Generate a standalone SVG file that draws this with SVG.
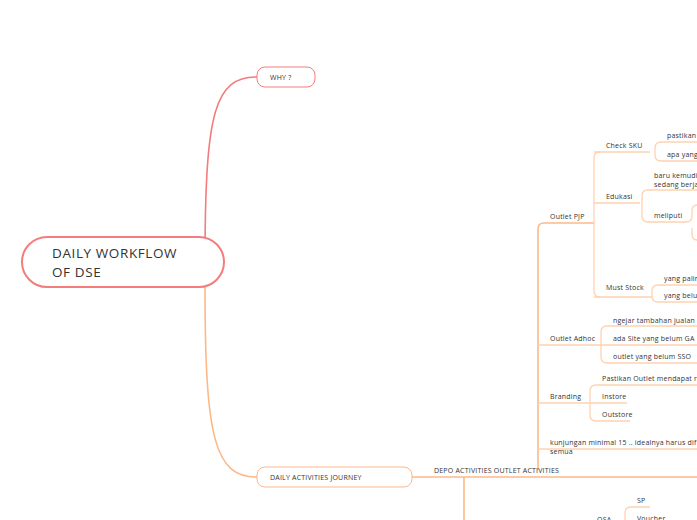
<svg xmlns="http://www.w3.org/2000/svg" width="697" height="520" viewBox="0 0 697 520">
<style>
text{font-family:"Open Sans","Liberation Sans",sans-serif;fill:#333;font-size:7px;letter-spacing:0.2px}
.l{fill:none;stroke:#fdd3b2;stroke-width:1.3}
.m{fill:none;stroke:#fbb98a;stroke-width:1.6}
</style>
<rect width="697" height="520" fill="#fff"/>
<g id="connectors">
<path d="M205 262 C205 110 215 77 257 77" fill="none" stroke="#f47c7c" stroke-width="1.6"/>
<path d="M205 287 C205 440 215 477 257 477" class="m"/>
<path d="M412 477 H697" class="m"/>
<path d="M464 477 V520" class="m"/>
<path d="M538 470 V229 Q538 223 544 223 H594" class="m"/>
<path d="M600 152 Q594 152 594 158 V291 Q594 297 600 297" class="l"/>
<path d="M594 152 H650 M594 203 H640 M594 297 H652" class="l"/>
<path d="M661 142 Q655 142 655 148 V155 Q655 161 661 161 H697 M661 142 H697" class="l"/>
<path d="M648 190 Q642 190 642 196 V216 Q642 222 648 222 H686 Q692 222 692 216 V211 Q692 205 697 205 M692 228 V234 Q692 240 697 240 M648 190 H697" class="l"/>
<path d="M658 285 Q652 285 652 291 V296 Q652 302 658 302 H697 M658 285 H697" class="l"/>
<path d="M538 345 H601 M607 326 Q601 326 601 332 V357 Q601 363 607 363 H697 M607 326 H697 M601 345 H697" class="l"/>
<path d="M538 403 H590 M596 385 Q590 385 590 391 V415 Q590 421 596 421 H630 M596 385 H697 M590 403 H627" class="l"/>
<path d="M538 449 H697" class="l"/>
<path d="M631 507 Q625 507 625 513 V520 M631 507 H650" class="l"/>
</g>
<g id="root"><rect x="22" y="237" width="202" height="50" rx="25" fill="#fff" stroke="#f47c7c" stroke-width="2"/>
<text x="52" y="258" style="font-size:13.5px;letter-spacing:0.6px">DAILY WORKFLOW</text><text x="52" y="277" style="font-size:13.5px;letter-spacing:0.6px">OF DSE</text></g>
<g id="why"><rect x="257" y="67" width="58" height="20" rx="8" fill="#fff" stroke="#f47c7c"/><text x="270" y="80">WHY ?</text></g>
<g id="daily"><rect x="257" y="467" width="155" height="20" rx="8" fill="#fff" stroke="#fbb98a"/><text x="270" y="480">DAILY ACTIVITIES JOURNEY</text></g>
<g id="depo"><text x="434" y="473">DEPO ACTIVITIES   OUTLET ACTIVITIES</text></g>
<g id="pjp"><text x="550" y="219">Outlet PJP</text></g>
<g id="checksku"><text x="606" y="148">Check SKU</text><text x="667" y="138">pastikan</text><text x="667" y="157">apa yang</text></g>
<g id="edukasi"><text x="606" y="199">Edukasi</text><text x="654" y="178">baru kemudi</text><text x="654" y="187">sedang berja</text><text x="654" y="218">meliputi</text></g>
<g id="muststock"><text x="606" y="290">Must Stock</text><text x="664" y="281">yang palin</text><text x="664" y="298">yang belu</text></g>
<g id="adhoc"><text x="550" y="341">Outlet Adhoc</text><text x="613" y="323">ngejar tambahan jualan</text><text x="613" y="341">ada Site yang belum  GA</text><text x="613" y="359">outlet yang belum SSO</text></g>
<g id="branding"><text x="550" y="399">Branding</text><text x="602" y="381">Pastikan Outlet  mendapat r</text><text x="602" y="399">Instore</text><text x="602" y="417">Outstore</text></g>
<g id="kunjungan"><text x="550" y="445">kunjungan minimal 15 ..   idealnya harus dif</text><text x="550" y="454">semua</text></g>
<g id="osa"><text x="597" y="522">OSA</text><text x="637" y="503">SP</text><text x="637" y="521">Voucher</text></g>
</svg>
